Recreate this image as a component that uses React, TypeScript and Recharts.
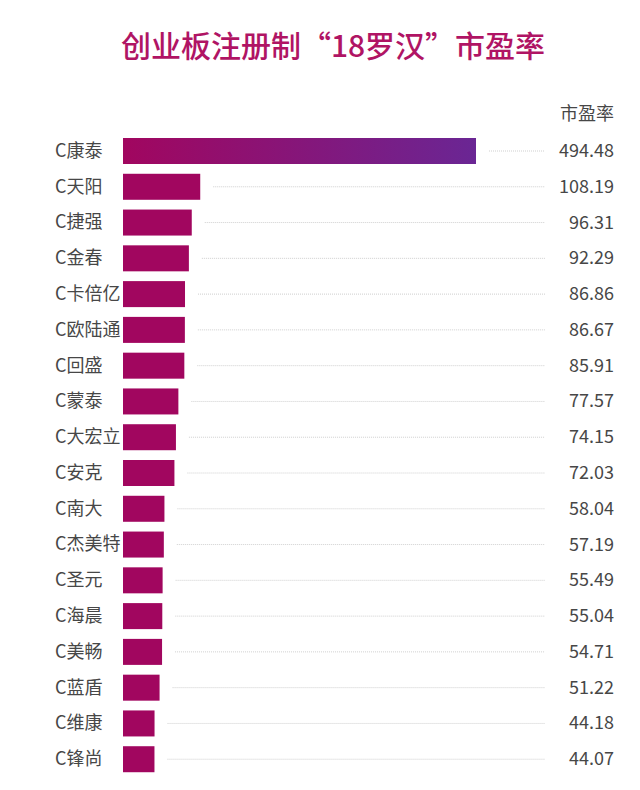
import React from "react";
import { BarChart, Bar, XAxis, YAxis, Cell } from "recharts";

const names = [
  "C康泰", "C天阳", "C捷强", "C金春", "C卡倍亿", "C欧陆通", "C回盛", "C蒙泰", "C大宏立",
  "C安克", "C南大", "C杰美特", "C圣元", "C海晨", "C美畅", "C蓝盾", "C维康", "C锋尚",
];
const peValues = [
  494.48, 108.19, 96.31, 92.29, 86.86, 86.67, 85.91, 77.57, 74.15,
  72.03, 58.04, 57.19, 55.49, 55.04, 54.71, 51.22, 44.18, 44.07,
];

const data = names.map((name, i) => ({ name, pe: peValues[i] }));

const FONT = '"Noto Sans CJK SC", "Noto Sans", sans-serif';
const BAR_COLOR = "#a1065f";

const CategoryTick = (props: any) => {
  const { y, payload } = props;
  return (
    <text x={55} y={y} dy={6} textAnchor="start" fontSize={18} fill="#474747" fontFamily={FONT}>
      {payload.value}
    </text>
  );
};

const BarWithGuide = (props: any) => {
  const { x, y, width, height, fill, payload } = props;
  const cy = y + height / 2;
  return (
    <g>
      <rect x={x} y={y} width={width} height={height} fill={fill} />
      <line
        x1={x + width + 13}
        x2={545}
        y1={cy}
        y2={cy}
        stroke="#cfcfcf"
        strokeWidth={1}
        strokeDasharray="1 1"
      />
      <text x={614} y={cy} dy={6} textAnchor="end" fontSize={18} fill="#474747" fontFamily={FONT}>
        {payload.pe.toFixed(2)}
      </text>
    </g>
  );
};

export default function App() {
  return (
    <div style={{ position: "absolute", left: 0, top: 0, width: 640, height: 790, background: "#fff", fontFamily: FONT }}>
      <div
        style={{
          position: "absolute",
          top: 22,
          left: 0,
          width: 666,
          textAlign: "center",
          fontSize: 30,
          color: "#b01464",
          fontWeight: 500,
        }}
      >
        创业板注册制“18罗汉”市盈率
      </div>
      <div style={{ position: "absolute", top: 99, right: 26, fontSize: 18, color: "#474747" }}>市盈率</div>
      <BarChart
        width={640}
        height={790}
        data={data}
        layout="vertical"
        margin={{ top: 133, right: 164, bottom: 13, left: 0 }}
      >
        <defs>
          <linearGradient id="topGrad" x1="0" y1="0" x2="1" y2="0">
            <stop offset="0%" stopColor="#a1065f" />
            <stop offset="100%" stopColor="#6a2694" />
          </linearGradient>
        </defs>
        <XAxis type="number" domain={[0, 494.48]} hide />
        <YAxis
          type="category"
          dataKey="name"
          width={123}
          axisLine={false}
          tickLine={false}
          tick={<CategoryTick />}
          interval={0}
        />
        <Bar dataKey="pe" barSize={26} shape={<BarWithGuide />} isAnimationActive={false}>
          {data.map((d, i) => (
            <Cell key={d.name} fill={i === 0 ? "url(#topGrad)" : BAR_COLOR} />
          ))}
        </Bar>
      </BarChart>
    </div>
  );
}
